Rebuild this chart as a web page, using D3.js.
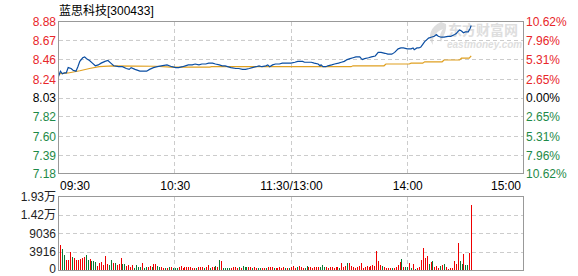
<!DOCTYPE html>
<html>
<head>
<meta charset="utf-8">
<script src="https://cdn.jsdelivr.net/npm/d3@7"></script>
<style>
  body { margin: 0; background: #fff; }
  svg { display: block; font-family: "Liberation Sans", Arial, "Noto Sans CJK SC", sans-serif; }
</style>
</head>
<body>
<div id="chart"></div>
<script>
// ---- data ----
const stockName = '蓝思科技';
const stockCode = '[300433]';
const prevClose = 8.03;

const priceTicks = ['8.88', '8.67', '8.46', '8.24', '8.03', '7.82', '7.60', '7.39', '7.18'];
const pctTicks = ['10.62%', '7.96%', '5.31%', '2.65%', '0.00%', '2.65%', '5.31%', '7.96%', '10.62%'];
const timeTicks = ['09:30', '10:30', '11:30/13:00', '14:00', '15:00'];
const volTicks = ['0', '3916', '9036', '1.42万', '1.93万'];
const volMax = 19300;

// minute index since 09:30 (lunch break removed) and last price
const priceMin = [0, 1, 2, 3, 4, 5, 6.5, 7.5, 9, 10, 11, 12.5, 13.5, 14.5, 16, 17.5, 19, 20.5, 22, 24,
  25.5, 27, 28.5, 31, 33, 35, 36.5, 37.5, 39.5, 42, 45.5, 47, 49, 51, 53, 56, 58.5, 60.5, 62, 64,
  65.5, 67, 69, 70.5, 72.5, 74, 76, 77.5, 79.5, 81, 83, 84.5, 86, 89, 91.5, 93, 95, 96.5, 98.5, 100,
  102, 103.5, 105, 107, 108, 109, 110.5, 112, 114, 115.5, 118, 120,
  122, 123.5, 126, 127, 130.5, 132, 134, 135, 135.5, 136.5, 138, 139, 141, 142.5, 144.5, 146, 147.5,
  149, 150.5, 152, 153.5, 155.5, 156.3, 156.8, 158, 160, 161.5, 163.5, 165, 166.5, 168.5, 170, 172,
  173.5, 175.3, 176.7, 178, 180, 182, 183, 183.6, 185, 186, 187, 188, 189, 190, 191, 192.3, 194, 195,
  196, 197.5, 199, 201, 202.5, 204.5, 205.3, 206, 207, 208, 209, 210, 211.5, 212, 212.5, 213];
const priceVal = [8.27, 8.33, 8.30, 8.31, 8.31, 8.37, 8.36, 8.34, 8.33, 8.38, 8.44, 8.48, 8.49, 8.47, 8.45, 8.42, 8.39, 8.40, 8.42, 8.44,
  8.45, 8.42, 8.39, 8.38, 8.38, 8.36, 8.35, 8.37, 8.35, 8.33, 8.33, 8.35, 8.37, 8.38, 8.39, 8.40, 8.38, 8.37, 8.37, 8.38,
  8.39, 8.40, 8.40, 8.41, 8.40, 8.41, 8.41, 8.42, 8.42, 8.41, 8.40, 8.39, 8.39, 8.37, 8.36, 8.36, 8.35, 8.35, 8.36, 8.37,
  8.38, 8.39, 8.38, 8.39, 8.40, 8.38, 8.40, 8.41, 8.41, 8.42, 8.42, 8.42,
  8.43, 8.44, 8.44, 8.43, 8.43, 8.42, 8.41, 8.39, 8.40, 8.38, 8.38, 8.39, 8.40, 8.41, 8.42, 8.43, 8.44,
  8.46, 8.47, 8.48, 8.49, 8.49, 8.47, 8.46, 8.47, 8.48, 8.49, 8.50, 8.54, 8.54, 8.53, 8.52, 8.52,
  8.54, 8.58, 8.59, 8.59, 8.58, 8.58, 8.59, 8.57, 8.59, 8.59, 8.60, 8.63, 8.66, 8.68, 8.70, 8.71, 8.72, 8.74,
  8.72, 8.71, 8.71, 8.72, 8.72, 8.74, 8.75, 8.77, 8.79, 8.78, 8.76, 8.77, 8.77, 8.79, 8.81, 8.84];

// average price line
const avgMin = [0, 5, 11, 16, 21, 28, 50, 58, 78, 79, 151, 152, 168, 169, 181, 182, 188, 189, 198, 199, 207, 208, 212, 213];
const avgVal = [8.30, 8.31, 8.335, 8.36, 8.38, 8.39, 8.385, 8.375, 8.375, 8.38, 8.38, 8.39, 8.39, 8.41, 8.41, 8.42, 8.42, 8.435, 8.435, 8.455, 8.455, 8.475, 8.475, 8.50];

// volume per minute (shares / 100), bar i belongs to minute i + 1
const volume = [
  6650, 5610, 4060, 2760, 2760, 4920, 3630, 3200, 2760, 2760,
  3020, 3370, 3450, 4060, 2760, 3020, 2590, 2590, 2160, 1300,
  1900, 2330, 1470, 3800, 1730, 1470, 2760, 2070, 2070, 1470,
  1730, 3370, 1730, 1730, 1300, 1470, 1040, 1470, 600, 1470,
  1040, 1040, 2070, 600, 870, 1040, 1200, 870, 1730, 1730,
  1200, 870, 870, 600, 600, 600, 870, 870, 600, 600,
  600, 870, 1200, 600, 870, 870, 870, 870, 600, 600,
  600, 870, 870, 870, 600,
  870, 1470, 600, 870, 870, 1200, 870, 2760, 2590, 600,
  600, 600, 600, 600, 870, 870, 600, 870, 600, 1200,
  1040, 870, 870, 870, 600, 870, 600, 600, 600, 600,
  600, 600, 870, 870, 870, 600, 600, 600, 870, 600,
  870, 600, 600, 600, 870,
  1200, 600, 870, 1200, 870, 600, 600, 1200, 870, 870,
  600, 870, 870, 870, 870, 1470, 870, 870, 600, 870,
  870, 600, 870, 870, 600, 2070, 870, 1200, 2070, 2070,
  1200, 870, 600, 870, 1200, 2070, 600, 870, 1200, 870,
  1200, 1470, 1200, 5180, 2590, 1470, 1200, 870, 600, 600,
  600, 600, 600, 870, 1470, 2330, 3020, 870, 870, 870,
  1900, 600, 1730, 430, 600, 870, 2760, 5780, 3200, 3800,
  1730, 2160, 2500, 870, 1200, 600, 1200, 1470, 1730, 870,
  350, 600, 600, 2500, 1730, 7250, 2500, 1730, 4320, 1470,
  1470, 4660, 17010];
// r = up minute, g = down minute
const volDir = ('rggrrrgrrr' + 'rrrggrgggr' + 'rrrrrggrgr' + 'rrggrrrrgg' + 'ggrggrrgrr' +
  'ggrrgrgrgg' + 'grrrrrrrrr' + 'grrrg' +
  'rrgrrgrgrg' + 'gggrrrrgrg' + 'ggrrgrrggr' + 'rgrrrgrrrr' + 'rgrgr' +
  'rrgrrrggrr' + 'rrrrgggrrr' + 'rrrrgrrrgr' + 'rrrrrrrrrr' + 'rrrrrrgrrr' +
  'rgrrrrgrgg' + 'rgrgrrrrrr' + 'grgrrrgrgr' + 'rrrrrrggrg' + 'grr').split('');

// ---- layout ----
const width = 578, height = 276;
const left = 58.5, right = 523.5;
const mainTop = 21.5, mainBot = 173.5;
const volTop = 196.5, volBot = 270.5;

const red = '#e8262a', green = '#1e8a48';
const barRed = '#ee0000', barGreen = '#0b7a34';

const svg = d3.select('#chart').append('svg')
  .attr('width', width)
  .attr('height', height);

const x = d3.scaleLinear().domain([0, 240]).range([left, right]);
const y = d3.scaleLinear().domain([7.18, 8.88]).range([174, 22]);
const yv = d3.scaleLinear().domain([0, volMax]).range([volBot, volTop]);

const priceNums = priceTicks.map(Number);
const gridX = [60, 120, 180];
const volTickVals = volTicks.map((d, i) => volMax * i / (volTicks.length - 1));

// title
svg.append('text')
  .attr('x', 59)
  .attr('y', 15)
  .style('font-size', '12px')
  .style('fill', '#000')
  .call(t => {
    t.append('tspan').style('font-family', '"Noto Sans CJK SC"').text(stockName);
    t.append('tspan').text(stockCode);
  });

// watermark
const wm = svg.append('g').style('fill', '#dedede');
wm.append('path')
  .attr('d', 'M441,22 C430,27 427,37 433,45 C432,38 435,32 443,29 C440,33 439,38 441,42 C444,35 447,30 446,24 Z');
wm.append('text').attr('x', 448).attr('y', 35)
  .style('font-size', '14px').style('font-weight', 'bold')
  .style('font-family', '"Noto Sans CJK SC"')
  .text('东方财富网');
wm.append('text').attr('x', 447).attr('y', 48)
  .style('font-size', '10px').style('font-weight', 'bold').style('font-style', 'italic')
  .text('eastmoney.com');

// grid lines, main panel
const grid = svg.append('g')
  .attr('stroke', '#cccccc')
  .attr('stroke-dasharray', '4,3')
  .attr('shape-rendering', 'crispEdges');

grid.selectAll('.hgrid')
  .data(priceNums.slice(1, -1))
  .enter().append('line')
  .attr('x1', left).attr('x2', right)
  .attr('y1', d => Math.floor(y(d)) + 0.5)
  .attr('y2', d => Math.floor(y(d)) + 0.5);

grid.selectAll('.vgrid')
  .data(gridX)
  .enter().append('line')
  .attr('y1', mainTop).attr('y2', mainBot)
  .attr('x1', d => Math.floor(x(d)) + 0.5)
  .attr('x2', d => Math.floor(x(d)) + 0.5);

// grid lines, volume panel
grid.selectAll('.hvgrid')
  .data(volTickVals.slice(1, -1))
  .enter().append('line')
  .attr('x1', left).attr('x2', right)
  .attr('y1', d => Math.floor(yv(d)) + 0.5)
  .attr('y2', d => Math.floor(yv(d)) + 0.5);

grid.selectAll('.vvgrid')
  .data(gridX)
  .enter().append('line')
  .attr('y1', volTop).attr('y2', volBot)
  .attr('x1', d => Math.floor(x(d)) + 0.5)
  .attr('x2', d => Math.floor(x(d)) + 0.5);

// volume bars
svg.append('g')
  .attr('shape-rendering', 'crispEdges')
  .selectAll('rect')
  .data(volume)
  .enter().append('rect')
  .attr('x', (d, i) => Math.round(x(i + 1)))
  .attr('width', 1)
  .attr('y', d => yv(d))
  .attr('height', d => volBot - yv(d))
  .attr('fill', (d, i) => volDir[i] === 'g' ? barGreen : barRed);

// average line and price line
const avgLine = d3.line()
  .x((d, i) => x(avgMin[i]))
  .y(d => y(d));
svg.append('path')
  .datum(avgVal)
  .attr('d', avgLine)
  .attr('fill', 'none')
  .attr('stroke', '#e0a020')
  .attr('stroke-width', 1.2);

const priceLine = d3.line()
  .x((d, i) => x(priceMin[i]))
  .y(d => y(d));
svg.append('path')
  .datum(priceVal)
  .attr('d', priceLine)
  .attr('fill', 'none')
  .attr('stroke', '#0b4ea2')
  .attr('stroke-width', 1.2);

// frames
svg.append('rect')
  .attr('x', left).attr('y', mainTop)
  .attr('width', right - left).attr('height', mainBot - mainTop)
  .attr('fill', 'none').attr('stroke', '#999')
  .attr('shape-rendering', 'crispEdges');
svg.append('rect')
  .attr('x', left).attr('y', volTop)
  .attr('width', right - left).attr('height', volBot - volTop)
  .attr('fill', 'none').attr('stroke', '#999')
  .attr('shape-rendering', 'crispEdges');

// left price axis
const colorAt = i => i < 4 ? red : (i === 4 ? '#000' : green);
const yAxisL = svg.append('g')
  .attr('transform', 'translate(56,0)')
  .call(d3.axisLeft(y).tickValues(priceNums).tickSize(0).tickPadding(0)
    .tickFormat((d, i) => priceTicks[i]));
yAxisL.select('.domain').remove();
yAxisL.selectAll('text')
  .style('font-size', '12px')
  .style('font-family', '"Liberation Sans", Arial, sans-serif')
  .attr('fill', (d, i) => colorAt(i));

// right percent axis
const yAxisR = svg.append('g')
  .attr('transform', 'translate(526,0)')
  .call(d3.axisRight(y).tickValues(priceNums).tickSize(0).tickPadding(0)
    .tickFormat((d, i) => pctTicks[i]));
yAxisR.select('.domain').remove();
yAxisR.selectAll('text')
  .style('font-size', '12px')
  .style('font-family', '"Liberation Sans", Arial, sans-serif')
  .attr('fill', (d, i) => colorAt(i));

// time axis
const xAxis = svg.append('g')
  .attr('transform', 'translate(0,190)')
  .call(d3.axisBottom(x).tickValues([0, 60, 120, 180, 240]).tickSize(0)
    .tickFormat((d, i) => timeTicks[i]));
xAxis.select('.domain').remove();
xAxis.selectAll('text')
  .attr('y', 0).attr('dy', null)
  .style('font-size', '12px')
  .style('font-family', '"Liberation Sans", Arial, sans-serif')
  .attr('fill', '#000')
  .attr('text-anchor', (d, i) => i === 0 ? 'start' : (i === 4 ? 'end' : 'middle'))
  .attr('dx', (d, i) => i === 0 ? 1 : (i === 4 ? -3 : 0));

// volume axis
const vAxis = svg.append('g')
  .attr('transform', 'translate(56,0)')
  .call(d3.axisLeft(yv).tickValues(volTickVals).tickSize(0).tickPadding(0)
    .tickFormat((d, i) => volTicks[i]));
vAxis.select('.domain').remove();
vAxis.selectAll('text')
  .style('font-size', '12px')
  .style('font-family', '"Liberation Sans", Arial, "Noto Sans CJK SC", sans-serif')
  .attr('fill', '#222')
  .attr('dy', (d, i) => i === 0 ? '0.2em' : '0.32em');
</script>
</body>
</html>
